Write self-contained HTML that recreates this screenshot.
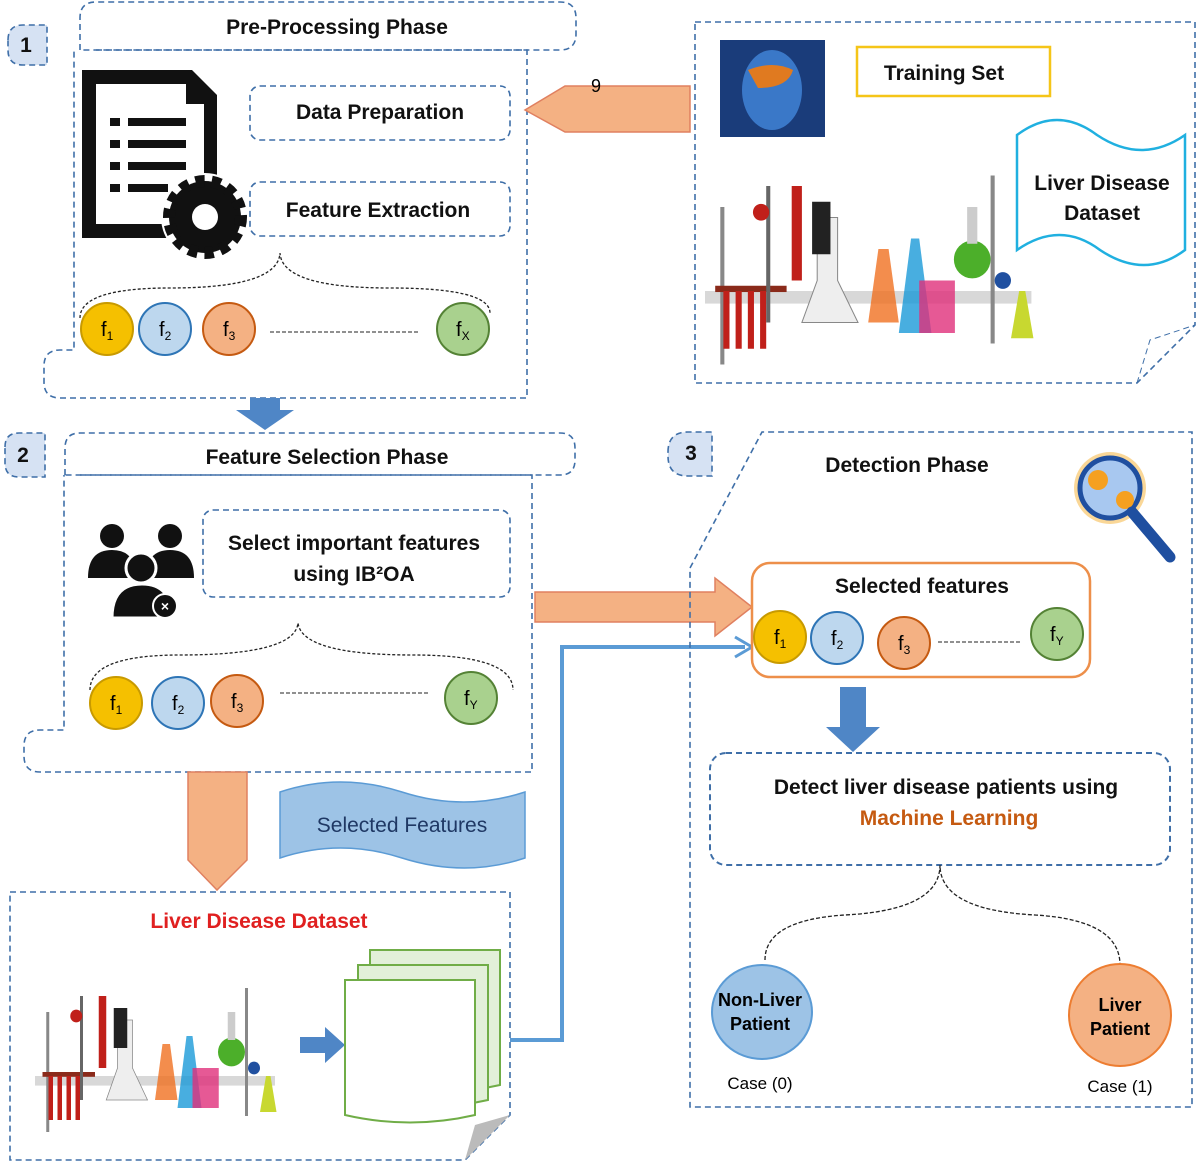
<!DOCTYPE html>
<html><head><meta charset="utf-8"><style>
body{margin:0;background:#fff}
svg text{font-family:"Liberation Sans",Arial,sans-serif}
.t{font-weight:bold;font-size:21px;fill:#111}
.d{fill:none;stroke:#3f6fa8;stroke-width:1.6;stroke-dasharray:6,4}
</style></head><body>
<svg width="1200" height="1162" viewBox="0 0 1200 1162" xmlns="http://www.w3.org/2000/svg">
<defs>
<g id="lab">
  <rect x="0" y="120" width="320" height="12" fill="#d8d8d8"/>
  <rect x="15" y="40" width="4" height="150" fill="#888"/>
  <rect x="10" y="115" width="70" height="6" fill="#8a2a1a"/>
  <rect x="18" y="120" width="6" height="55" fill="#c0201a"/><rect x="30" y="120" width="6" height="55" fill="#c0201a"/><rect x="42" y="120" width="6" height="55" fill="#c0201a"/><rect x="54" y="120" width="6" height="55" fill="#c0201a"/>
  <rect x="60" y="20" width="4" height="130" fill="#666"/><circle cx="55" cy="45" r="8" fill="#c0201a"/>
  <rect x="85" y="20" width="10" height="90" fill="#c0201a"/>
  <path d="M110 50 h20 v60 l20 40 h-55 l15 -40z" fill="#eee" stroke="#888"/>
  <rect x="105" y="35" width="18" height="50" fill="#222"/>
  <path d="M160 150 l10 -70 h10 l10 70z" fill="#f07020" opacity=".8"/>
  <path d="M190 160 l12 -90 h8 l12 90z" fill="#1a9ad8" opacity=".8"/>
  <rect x="210" y="110" width="35" height="50" fill="#e0307a" opacity=".8"/>
  <circle cx="262" cy="90" r="18" fill="#4caf2a"/><rect x="257" y="40" width="10" height="35" fill="#ccc"/>
  <rect x="280" y="10" width="4" height="160" fill="#888"/><circle cx="292" cy="110" r="8" fill="#2050a0"/>
  <path d="M300 165 l8 -45 h6 l8 45z" fill="#c8d830"/>
</g>
</defs>

<!-- Badge 1 -->
<path d="M8 40 q0-15 15-15 h24 v40 h-24 q-15 0-15-15z" fill="#d6e2f3" class="d" style="fill:#d6e2f3"/>
<text x="26" y="52" class="t" text-anchor="middle">1</text>
<!-- Preprocessing -->
<path d="M80 50 V18 q0-16 16-16 h464 q16 0 16 16 v16 q0 16-16 16 H80" class="d"/>
<path d="M96 50 H527 V398 H60 q-16 0-16-16 v-16 q0-16 16-16 h14 V50" class="d"/>
<text x="337" y="34" class="t" text-anchor="middle">Pre-Processing Phase</text>
<!-- doc icon -->
<path d="M82 70 h110 l25 25 v143 h-135z" fill="#111"/>
<path d="M96 84 h90 v20 h18 v120 h-108z" fill="#fff"/>
<g fill="#111"><rect x="110" y="118" width="10" height="8"/><rect x="128" y="118" width="58" height="8"/><rect x="110" y="140" width="10" height="8"/><rect x="128" y="140" width="58" height="8"/><rect x="110" y="162" width="10" height="8"/><rect x="128" y="162" width="58" height="8"/><rect x="110" y="184" width="10" height="8"/><rect x="128" y="184" width="40" height="8"/></g>
<circle cx="205" cy="217" r="44" fill="#fff"/>
<circle cx="205" cy="217" r="36" fill="#111" stroke="#111" stroke-width="12" stroke-dasharray="9,7"/>
<circle cx="205" cy="217" r="13" fill="#fff"/>
<rect x="250" y="86" width="260" height="54" rx="10" class="d"/>
<text x="380" y="119" class="t" text-anchor="middle">Data Preparation</text>
<rect x="250" y="182" width="260" height="54" rx="10" class="d"/>
<text x="378" y="217" class="t" text-anchor="middle">Feature Extraction</text>
<path d="M80 318 q0-30 90-30 q108 0 110-35 q2 35 110 35 q100 0 100 25" fill="none" stroke="#222" stroke-width="1.3" stroke-dasharray="3,2"/>
<g font-size="20">
<circle cx="107" cy="329" r="26" fill="#f5c000" stroke="#c89a00" stroke-width="2"/><text x="101" y="336">f<tspan font-size="12" dy="4">1</tspan></text>
<circle cx="165" cy="329" r="26" fill="#bdd7ee" stroke="#2e75b6" stroke-width="2"/><text x="159" y="336">f<tspan font-size="12" dy="4">2</tspan></text>
<circle cx="229" cy="329" r="26" fill="#f4b183" stroke="#c55a11" stroke-width="2"/><text x="223" y="336">f<tspan font-size="12" dy="4">3</tspan></text>
<line x1="270" y1="332" x2="420" y2="332" stroke="#222" stroke-dasharray="4,2"/>
<circle cx="463" cy="329" r="26" fill="#a9d18e" stroke="#548235" stroke-width="2"/><text x="456" y="336">f<tspan font-size="12" dy="4">X</tspan></text>
</g>
<!-- arrow left -->
<path d="M690 86 V132 H565 V132 L525 110 L565 86z" fill="#f4b183" stroke="#e08060" stroke-width="1.5"/>
<text x="596" y="92" font-size="18" text-anchor="middle">9</text>
<!-- Training set area -->
<path d="M695 22 H1195 V325 L1137 383 H695z" class="d"/>
<path d="M1137 383 L1150 340 L1195 325" fill="none" stroke="#3f6fa8" stroke-dasharray="6,4"/>
<rect x="720" y="40" width="105" height="97" fill="#1a3c7a"/>
<ellipse cx="772" cy="90" rx="30" ry="40" fill="#3a78c8"/>
<path d="M748 70 q25-10 45 0 q-5 18-35 18z" fill="#e07a20"/>
<rect x="857" y="47" width="193" height="49" fill="#fff" stroke="#f5c518" stroke-width="2.5"/>
<text x="944" y="80" class="t" text-anchor="middle">Training Set</text>
<use href="#lab" transform="translate(705 165) scale(1.02 1.05)"/>
<path d="M1017 135 q40 -30 80 0 q45 30 88 0 V250 q-40 30 -85 0 q-40 -30 -83 0z" fill="#fff" stroke="#20b0e0" stroke-width="2.5"/>
<text x="1102" y="190" class="t" text-anchor="middle">Liver Disease</text>
<text x="1102" y="220" class="t" text-anchor="middle">Dataset</text>
<!-- down arrow -->
<path d="M250 398 h30 v12 h14 l-29 20 l-29 -20 h14z" fill="#4f86c6"/>
<!-- Badge 2 -->
<path d="M5 447 q0-14 14-14 h26 v44 h-26 q-14 0-14-14z" fill="#d6e2f3" class="d" style="fill:#d6e2f3"/>
<text x="23" y="462" class="t" text-anchor="middle">2</text>
<path d="M65 475 V448 q0-15 15-15 h480 q15 0 15 15 v12 q0 15-15 15 H65" class="d"/>
<path d="M80 475 H532 V772 H40 q-16 0-16-16 v-10 q0-16 16-16 h24 V475" class="d"/>
<text x="327" y="464" class="t" text-anchor="middle">Feature Selection Phase</text>
<!-- people -->
<g fill="#111">
<circle cx="112" cy="536" r="12"/><circle cx="170" cy="536" r="12"/>
<path d="M88 578 q0-28 24-28 q24 0 24 28z"/><path d="M146 578 q0-28 24-28 q24 0 24 28z"/>
<circle cx="141" cy="568" r="15" stroke="#fff" stroke-width="3"/>
<path d="M112 618 q0-34 30-34 q30 0 30 34z" stroke="#fff" stroke-width="3"/>
<circle cx="165" cy="606" r="12" stroke="#fff" stroke-width="2"/>
</g>
<text x="165" y="611" font-size="14" fill="#fff" text-anchor="middle" font-weight="bold">×</text>
<rect x="203" y="510" width="307" height="87" rx="10" class="d"/>
<text x="354" y="550" class="t" text-anchor="middle">Select important features</text>
<text x="354" y="581" class="t" text-anchor="middle">using IB²OA</text>
<path d="M90 690 q0-35 90-35 q115 0 118-32 q4 32 115 32 q100 0 100 35" fill="none" stroke="#222" stroke-width="1.3" stroke-dasharray="3,2"/>
<g font-size="20">
<circle cx="116" cy="703" r="26" fill="#f5c000" stroke="#c89a00" stroke-width="2"/><text x="110" y="710">f<tspan font-size="12" dy="4">1</tspan></text>
<circle cx="178" cy="703" r="26" fill="#bdd7ee" stroke="#2e75b6" stroke-width="2"/><text x="172" y="710">f<tspan font-size="12" dy="4">2</tspan></text>
<circle cx="237" cy="701" r="26" fill="#f4b183" stroke="#c55a11" stroke-width="2"/><text x="231" y="708">f<tspan font-size="12" dy="4">3</tspan></text>
<line x1="280" y1="693" x2="430" y2="693" stroke="#222" stroke-dasharray="4,2"/>
<circle cx="471" cy="698" r="26" fill="#a9d18e" stroke="#548235" stroke-width="2"/><text x="464" y="705">f<tspan font-size="12" dy="4">Y</tspan></text>
</g>
<!-- big arrow right -->
<path d="M535 592 H715 V578 L752 607 L715 636 V622 H535z" fill="#f4b183" stroke="#e08060" stroke-width="1.5"/>
<!-- blue connector -->
<path d="M510 1040 H562 V647 H745" fill="none" stroke="#5b9bd5" stroke-width="4"/>
<path d="M735 637 L752 647 L735 657" fill="none" stroke="#5b9bd5" stroke-width="3"/>
<!-- Badge 3 -->
<path d="M668 452 q0-20 20-20 h24 v44 h-24 q-20 0-20-20z" fill="#d6e2f3" class="d" style="fill:#d6e2f3"/>
<text x="691" y="460" class="t" text-anchor="middle">3</text>
<path d="M690 568 L762 432 H1192 V1107 H690z" class="d"/>
<text x="907" y="472" class="t" text-anchor="middle">Detection Phase</text>
<!-- magnifier -->
<circle cx="1110" cy="488" r="36" fill="#f5b030" opacity=".5"/>
<circle cx="1110" cy="488" r="30" fill="#a8c8f0" stroke="#1f4fa0" stroke-width="5"/>
<circle cx="1098" cy="480" r="10" fill="#f5a020"/><circle cx="1125" cy="500" r="9" fill="#f5a020"/>
<path d="M1132 512 L1170 557" stroke="#1f4fa0" stroke-width="11" stroke-linecap="round"/>
<!-- selected features box -->
<rect x="752" y="563" width="338" height="114" rx="18" fill="#fff" stroke="#ed8f4a" stroke-width="2.5"/>
<text x="922" y="593" class="t" text-anchor="middle">Selected features</text>
<g font-size="20">
<circle cx="780" cy="637" r="26" fill="#f5c000" stroke="#c89a00" stroke-width="2"/><text x="774" y="644">f<tspan font-size="12" dy="4">1</tspan></text>
<circle cx="837" cy="638" r="26" fill="#bdd7ee" stroke="#2e75b6" stroke-width="2"/><text x="831" y="645">f<tspan font-size="12" dy="4">2</tspan></text>
<circle cx="904" cy="643" r="26" fill="#f4b183" stroke="#c55a11" stroke-width="2"/><text x="898" y="650">f<tspan font-size="12" dy="4">3</tspan></text>
<line x1="938" y1="642" x2="1020" y2="642" stroke="#222" stroke-dasharray="4,2"/>
<circle cx="1057" cy="634" r="26" fill="#a9d18e" stroke="#548235" stroke-width="2"/><text x="1050" y="641">f<tspan font-size="12" dy="4">Y</tspan></text>
</g>
<path d="M840 687 h26 v40 h14 l-27 25 l-27 -25 h14z" fill="#4f86c6"/>
<rect x="710" y="753" width="460" height="112" rx="16" class="d" style="stroke-width:2"/>
<text x="946" y="794" class="t" text-anchor="middle">Detect liver disease patients using</text>
<text x="949" y="825" class="t" text-anchor="middle" style="fill:#c55a11">Machine Learning</text>
<path d="M765 960 q0-40 80-45 q95-5 95-50 q0 45 95 50 q85 5 85 50" fill="none" stroke="#222" stroke-width="1.3" stroke-dasharray="4,2"/>
<ellipse cx="762" cy="1012" rx="50" ry="47" fill="#9dc3e6" stroke="#5b9bd5" stroke-width="2"/>
<text x="760" y="1006" font-size="18" font-weight="bold" text-anchor="middle">Non-Liver</text>
<text x="760" y="1030" font-size="18" font-weight="bold" text-anchor="middle">Patient</text>
<circle cx="1120" cy="1015" r="51" fill="#f4b183" stroke="#ed7d31" stroke-width="2"/>
<text x="1120" y="1011" font-size="18" font-weight="bold" text-anchor="middle">Liver</text>
<text x="1120" y="1035" font-size="18" font-weight="bold" text-anchor="middle">Patient</text>
<text x="760" y="1089" font-size="17" text-anchor="middle">Case (0)</text>
<text x="1120" y="1092" font-size="17" text-anchor="middle">Case (1)</text>
<!-- salmon down arrow -->
<path d="M188 772 H247 V860 L217 890 L188 860z" fill="#f4b183" stroke="#e08060" stroke-width="1.5"/>
<!-- Selected features banner -->
<path d="M280 792 q60 -20 122 0 q62 20 123 0 V858 q-60 20 -123 0 q-62 -20 -122 0z" fill="#9dc3e6" stroke="#5b9bd5" stroke-width="1.5"/>
<text x="402" y="832" font-size="21" text-anchor="middle" fill="#1f3864">Selected Features</text>
<!-- bottom dataset -->
<path d="M10 892 H510 V1115 L465 1160 H10z" class="d"/>
<path d="M465 1160 L475 1125 L510 1115z" fill="#bbb"/>
<text x="259" y="928" font-size="21" font-weight="bold" fill="#e02020" text-anchor="middle">Liver Disease Dataset</text>
<use href="#lab" transform="translate(35 980) scale(0.75 0.8)"/>
<path d="M300 1037 h25 v-10 l20 18 l-20 18 v-10 h-25z" fill="#4f86c6"/>
<g fill="#e2f0d9" stroke="#70ad47" stroke-width="2">
<path d="M370 950 h130 v135 q-65 15 -130 0z"/>
<path d="M358 965 h130 v135 q-65 15 -130 0z"/>
<path d="M345 980 h130 v135 q-65 15 -130 0z" fill="#fff"/>
</g>
</svg>
</body></html>
